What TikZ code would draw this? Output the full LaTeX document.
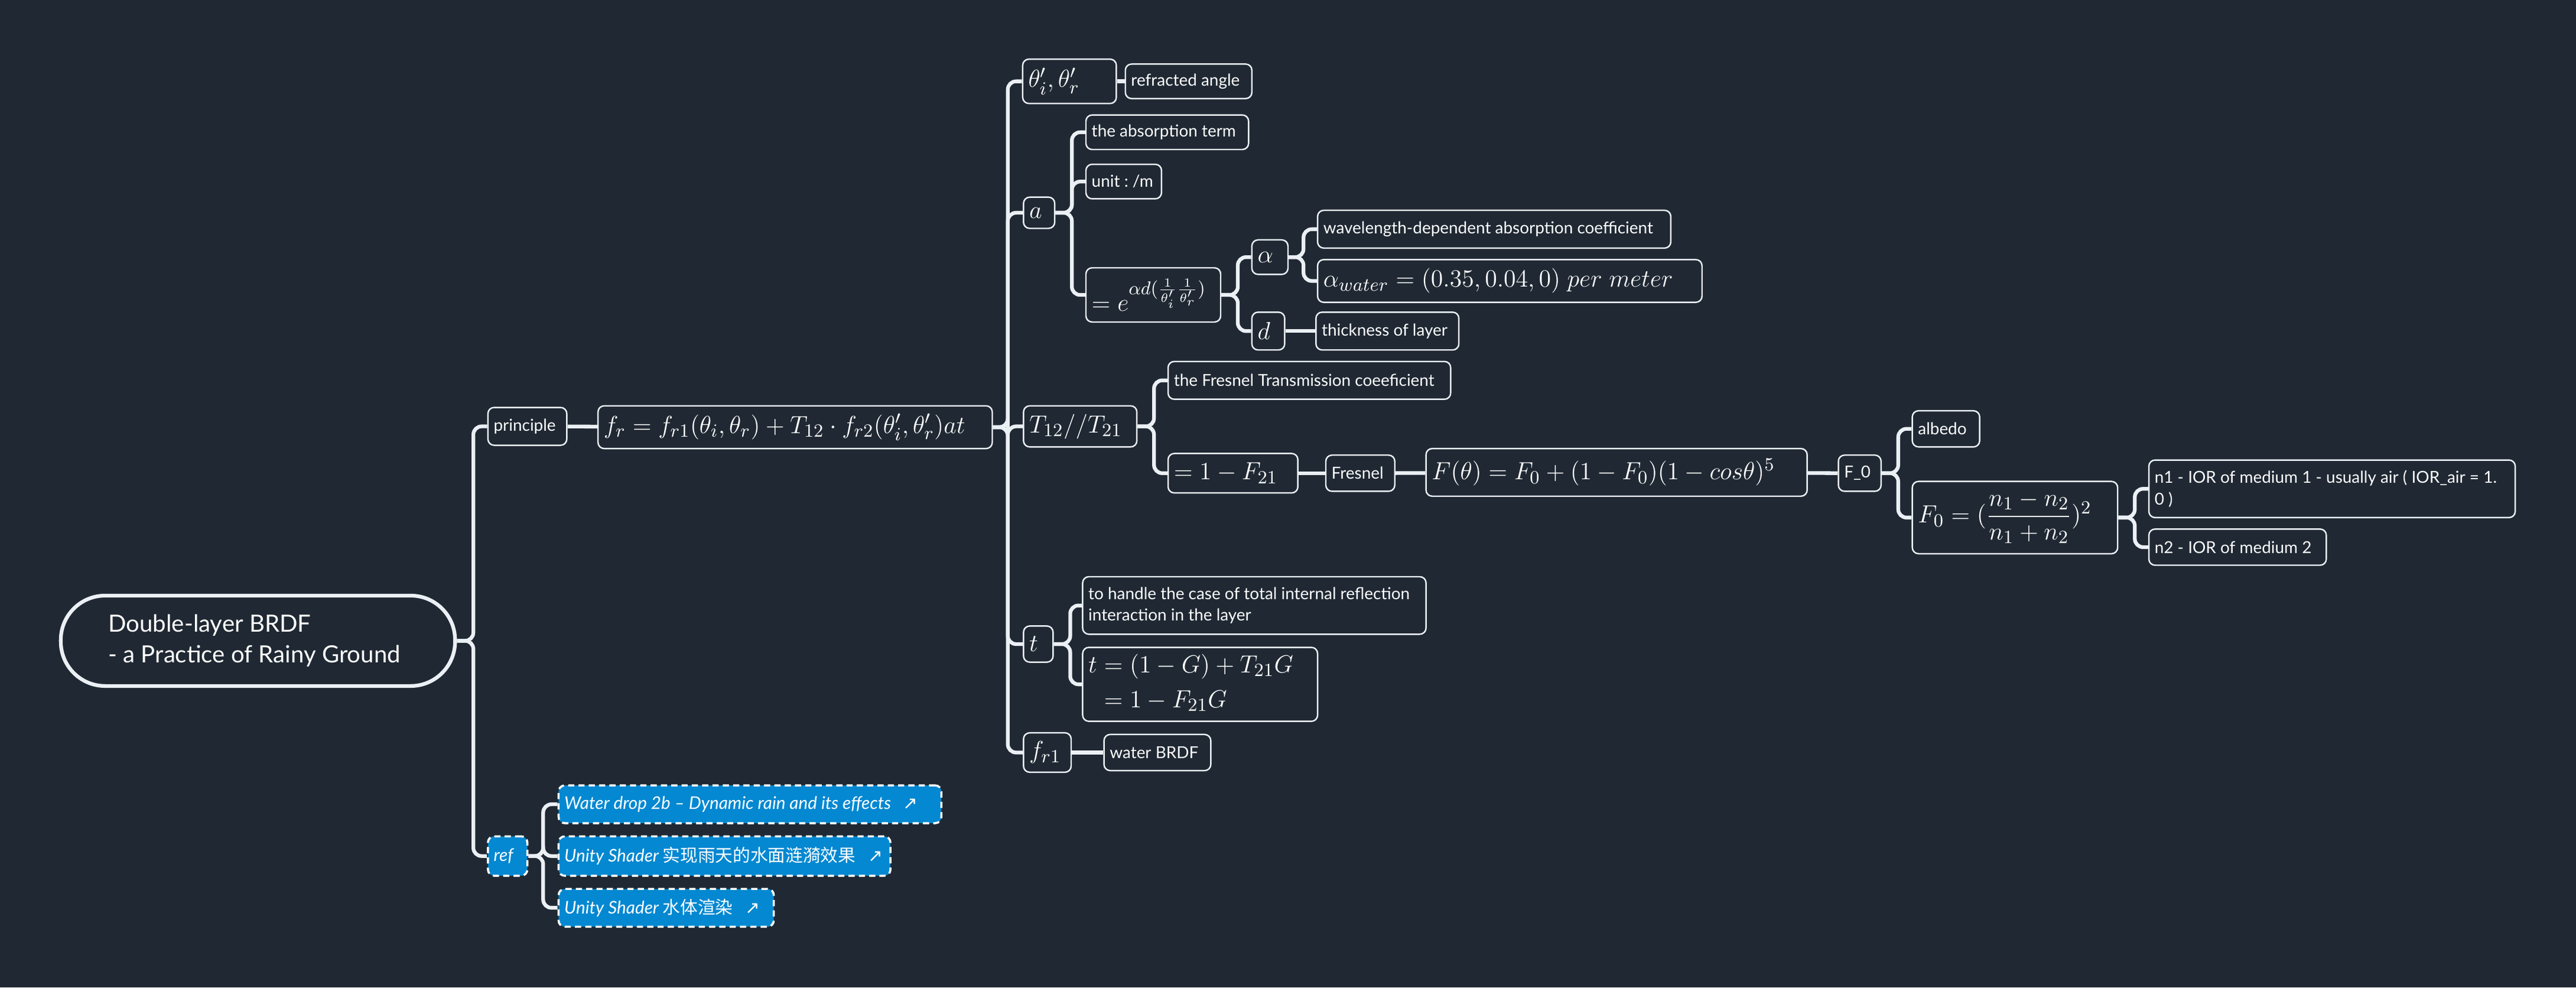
\documentclass[tikz,border=0pt]{standalone}
\usepackage{fontspec}
\setmainfont{Lato}
\newfontfamily\cjk{Noto Sans CJK SC}
\newfontfamily\djv{DejaVu Sans}
\usepackage{amsmath}
\usetikzlibrary{calc}
\definecolor{bg}{RGB}{32,41,51}
\definecolor{refblue}{RGB}{3,136,209}
\definecolor{ln}{RGB}{235,240,245}
\tikzset{
  x=0.028cm, y=-0.028cm,
  bx/.style 2 args={draw=ln, line width=0.7pt, rounded corners=3pt, text=white, fill=bg,
    minimum width=#1*0.028cm, minimum height=#2*0.028cm, text width=(#1-7)*0.028cm, inner xsep=3.5*0.028cm, inner ysep=1pt, font=\fontsize{8}{10.5}\selectfont, align=flush left},
  mx/.style={font=\fontsize{12.5}{14}\selectfont},
  rf/.style={fill=refblue, dashed, dash pattern=on 3pt off 2pt, line width=1pt, draw=white, font=\fontsize{8.5}{10}\selectfont\itshape},
  conn/.style={draw=ln, line width=1.8pt, rounded corners=4pt},
}
\newcommand{\lk}{\hspace{6pt}{\djv\upshape\char"2197}}
\begin{document}
\begin{tikzpicture}
\fill[bg] (0,0) rectangle (1568,601);
\node[draw=ln, line width=1.8pt, fill=bg, rounded corners=27*0.028cm, minimum width=240*0.028cm, minimum height=55*0.028cm, text width=182*0.028cm, text=white, align=flush left, font=\fontsize{11.5}{15}\selectfont] (root) at (157,390) {Double-layer BRDF\\- a Practice of Rainy Ground};
\node[bx={48}{23}] (pr) at (321,259.5) {principle};
\node[bx={240}{26},mx] (fr) at (484,260) {$f_r = f_{r1}(\theta_i,\theta_r) + T_{12}\cdot f_{r2}(\theta'_i,\theta'_r)at$};
\node[bx={57}{27},mx] (th) at (651,49.5) {$\theta'_i,\theta'_r$};
\node[bx={77}{21}] (ra) at (723.5,49.5) {refracted angle};
\node[bx={19}{19},mx] (a) at (632.5,129.5) {$a$};
\node[bx={99}{21}] (at) at (710.5,80.5) {the absorption term};
\node[bx={46}{21}] (un) at (684,110.5) {unit~:~/m};
\node[bx={82}{33},mx] (ex) at (702,179.5) {$=e^{\alpha d(\frac{1}{\theta'_i}\frac{1}{\theta'_r})}$};
\node[bx={22}{21},mx] (al) at (773,156.5) {$\alpha$};
\node[bx={215}{23}] (wl) at (909.5,139.5) {wavelength-dependent absorption coefficient};
\node[bx={234}{26},mx] (aw) at (919,171) {$\alpha_{water} = (0.35,0.04,0)\; per\; meter$};
\node[bx={20}{23},mx] (d) at (772,201.5) {$d$};
\node[bx={87}{23}] (tk) at (844.5,201.5) {thickness of layer};
\node[bx={69}{25},mx] (T) at (657.5,259.5) {$T_{12}//T_{21}$};
\node[bx={172}{23}] (fc) at (797,231.5) {the Fresnel Transmission coeeficient};
\node[bx={79}{24},mx] (mf) at (750.5,288) {$=1-F_{21}$};
\node[bx={42}{22}] (fn) at (828,288) {Fresnel};
\node[bx={232}{29},mx] (ft) at (984,287.5) {$F(\theta) = F_0 + (1-F_0)(1-cos\theta)^5$};
\node[bx={26}{22}] (f0) at (1132,288) {F\_0};
\node[bx={41}{22}] (ab) at (1184.5,261) {albedo};
\node[bx={125}{44},mx] (fe) at (1226.5,315) {$F_0 = (\dfrac{n_1-n_2}{n_1+n_2})^2$};
\node[bx={223}{35}] (n1) at (1419.5,297.5) {n1 - IOR of medium 1 - usually air ( IOR\_air = 1.\\0 )};
\node[bx={108}{22}] (n2) at (1362,333) {n2 - IOR of medium 2};
\node[bx={18}{22},mx] (t) at (632,392) {$t$};
\node[bx={209}{35}] (th2) at (763.5,368.5) {to handle the case of total internal reflection\\interaction in the layer};
\node[bx={143}{45},mx] (te) at (730.5,416.5) {$\begin{aligned}t&=(1-G)+T_{21}G\\&=1-F_{21}G\end{aligned}$};
\node[bx={29}{24},mx] (f1) at (637.5,458) {$f_{r1}$};
\node[bx={65}{22}] (wb) at (704.5,458) {water BRDF};
\node[bx={24}{24},rf] (ref) at (309,521) {ref};
\node[bx={233}{23},rf] (r1) at (456.5,489.5) {\mbox{Water drop 2b – Dynamic rain and its effects\lk}};
\node[bx={202}{24},rf] (r2) at (441,521) {\mbox{Unity Shader {\cjk 实现雨天的水面涟漪效果}\lk}};
\node[bx={131}{23},rf] (r3) at (405.5,552.5) {\mbox{Unity Shader {\cjk 水体渲染}\lk}};
% connectors
\foreach \c in {pr,ref} \draw[conn] (root.east) -- ++(10,0) |- (\c.west);
\draw[conn] (pr) -- (fr);
\foreach \c in {th,a,T,t,f1} \draw[conn] (fr.east) -- ++(9,0) |- (\c.west);
\draw[conn] (th) -- (ra);
\foreach \c in {at,un,ex} \draw[conn] (a.east) -- ++(10,0) |- (\c.west);
\foreach \c in {al,d} \draw[conn] (ex.east) -- ++(10,0) |- (\c.west);
\foreach \c in {wl,aw} \draw[conn] (al.east) -- ++(9,0) |- (\c.west);
\draw[conn] (d) -- (tk);
\foreach \c in {fc,mf} \draw[conn] (T.east) -- ++(10,0) |- (\c.west);
\draw[conn] (mf) -- (fn); \draw[conn] (fn) -- (ft); \draw[conn] (ft) -- (f0);
\foreach \c in {ab,fe} \draw[conn] (f0.east) -- ++(10,0) |- (\c.west);
\foreach \c in {n1,n2} \draw[conn] (fe.east) -- ++(10,0) |- (\c.west);
\foreach \c in {th2,te} \draw[conn] (t.east) -- ++(10,0) |- (\c.west);
\draw[conn] (f1) -- (wb);
\foreach \c in {r1,r2,r3} \draw[conn] (ref.east) -- ++(9,0) |- (\c.west);
\end{tikzpicture}
\end{document}
